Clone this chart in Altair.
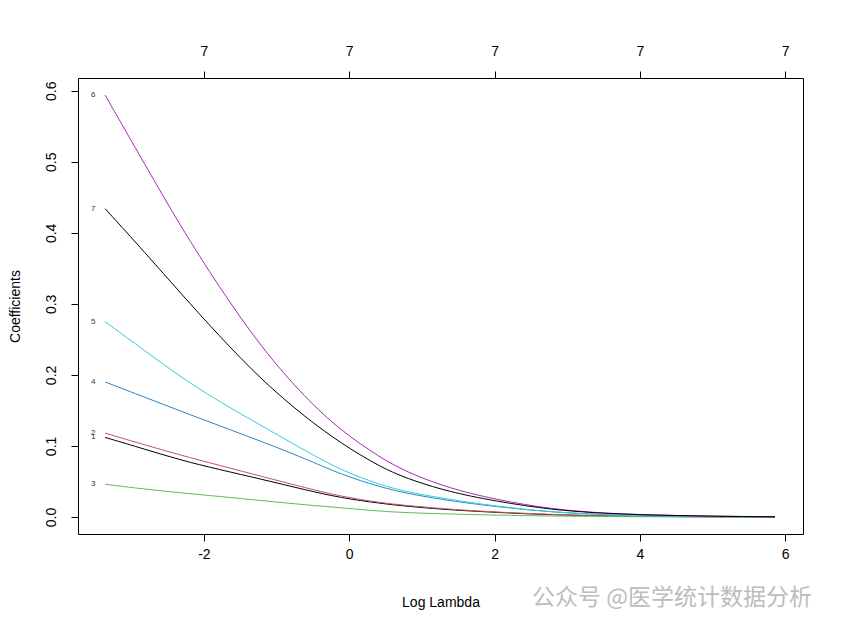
import altair as alt
import pandas as pd

# Log lambda grid (x positions of path samples)
log_lambda = [-3.36, -2.8, -2.32, -1.8, -1.2, -0.6, -0.12, 0.43, 0.8, 1.25, 1.8, 2.63, 3.3, 4.0, 5.0, 5.86]

coef_1 = [0.112, 0.095, 0.080, 0.067, 0.053, 0.038, 0.027, 0.019, 0.015, 0.011, 0.0075, 0.0035, 0.0018, 0.0007, 0.0002, 0.0001]
coef_2 = [0.118, 0.101, 0.087, 0.073, 0.057, 0.041, 0.029, 0.020, 0.016, 0.012, 0.008, 0.004, 0.002, 0.0008, 0.0002, 0.0001]
coef_3 = [0.046, 0.039, 0.034, 0.029, 0.023, 0.017, 0.013, 0.008, 0.006, 0.0045, 0.003, 0.0015, 0.0008, 0.0003, 0.0001, 0.00003]
coef_4 = [0.190, 0.168, 0.149, 0.129, 0.106, 0.082, 0.060, 0.042, 0.033, 0.025, 0.017, 0.008, 0.004, 0.0015, 0.0005, 0.0001]
coef_5 = [0.275, 0.233, 0.197, 0.163, 0.128, 0.093, 0.066, 0.045, 0.035, 0.027, 0.018, 0.008, 0.004, 0.0015, 0.0005, 0.0001]
coef_6 = [0.594, 0.494, 0.409, 0.325, 0.237, 0.167, 0.122, 0.083, 0.063, 0.045, 0.029, 0.013, 0.0065, 0.003, 0.001, 0.0003]
coef_7 = [0.434, 0.371, 0.315, 0.256, 0.192, 0.140, 0.104, 0.070, 0.054, 0.039, 0.026, 0.012, 0.006, 0.003, 0.001, 0.0002]

variables = ["1", "2", "3", "4", "5", "6", "7"]
series = [coef_1, coef_2, coef_3, coef_4, coef_5, coef_6, coef_7]
colors = ["#000000", "#C8506A", "#5CBF4C", "#2A85C8", "#30CFDA", "#A828B8", "#000000"]

x_ticks = [-2, 0, 2, 4, 6]
y_ticks = [0, 0.1, 0.2, 0.3, 0.4, 0.5, 0.6]
top_labels = ["7", "7", "7", "7", "7"]

rows = []
for v, s in zip(variables, series):
    for i, (x, y) in enumerate(zip(log_lambda, s)):
        rows.append({"var": v, "loglambda": x, "coef": y, "idx": i})
df = pd.DataFrame(rows)
lab = df[df["idx"] == 0]

FONT = "Liberation Sans"

xscale = alt.Scale(domain=[-3.733, 6.245], nice=False, zero=False)
yscale = alt.Scale(domain=[-0.024, 0.618], nice=False, zero=False)

yaxis = alt.Axis(values=y_ticks, format=".1f", title="Coefficients",
                 grid=False, domain=False, tickSize=7, tickColor="black", labelAngle=270,
                 labelAlign="center", labelBaseline="bottom", labelPadding=13,
                 labelFontSize=14, labelFont=FONT, labelColor="black", titleFont=FONT,
                 titleFontSize=14, titleFontWeight="normal", titleColor="black",
                 titlePadding=22)

lines = alt.Chart(df).mark_line(strokeWidth=1, interpolate="basis").encode(
    x=alt.X("loglambda:Q", scale=xscale,
            axis=alt.Axis(values=x_ticks, labelExpr="'' + datum.value", title="Log Lambda",
                          grid=False, domain=False,
                          tickSize=7, tickColor="black", labelPadding=6, labelFontSize=14,
                          labelFont=FONT, labelColor="black", titleFont=FONT, titleFontSize=14,
                          titleFontWeight="normal", titleColor="black", titlePadding=34)),
    y=alt.Y("coef:Q", scale=yscale, axis=yaxis),
    color=alt.Color("var:N", scale=alt.Scale(domain=variables, range=colors), legend=None),
    detail="var:N",
    order="idx:Q",
)

label_expr = "{" + ",".join(f"'{t}':'{l}'" for t, l in zip(x_ticks, top_labels)) + "}[datum.value]"

labels = alt.Chart(lab).mark_text(fontSize=8, font=FONT, color="#333333", dx=-12, align="center").encode(
    x=alt.X("loglambda:Q", scale=xscale,
            axis=alt.Axis(orient="top", values=x_ticks, labelExpr=label_expr, title=None, grid=False,
                          domain=False, tickSize=7, tickColor="black", labelPadding=13,
                          labelFontSize=14, labelFont=FONT, labelColor="black")),
    y=alt.Y("coef:Q", scale=yscale, axis=yaxis),
    text="var:N",
)

watermark = alt.Chart(pd.DataFrame({"t": ["公众号 @医学统计数据分析"]})).mark_text(
    font="Noto Sans CJK SC", fontSize=23, color="#BDBDBD", align="left", baseline="middle"
).encode(x=alt.value(454), y=alt.value(520), text="t:N")

chart = alt.layer(lines, labels, watermark).resolve_axis(x="independent").properties(
    width=725, height=456,
    autosize=alt.AutoSizeParams(type="none"),
    padding={"left": 70, "top": 70, "right": 33, "bottom": 90},
    background="white",
).configure_view(stroke="black", strokeWidth=1)

chart.save("out.html", embed_options={"renderer": "svg", "actions": False})
